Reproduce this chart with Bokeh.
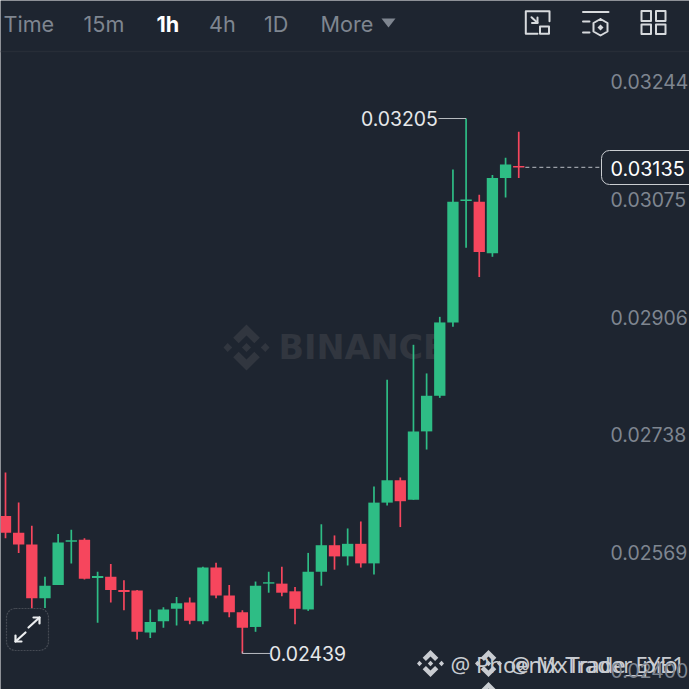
from bokeh.plotting import figure
from bokeh.models import Range1d, LinearAxis, FixedTicker
from bokeh.core.properties import value
from bokeh.embed import file_html
from bokeh.resources import INLINE

opens = [.02636,.02612,.02595,.02518,.02537,.02599,.02602,.02547,.02549,.02530,.02529,.02469,.02485,.02503,.02512,.02485,.02562,.02522,.02498,.02477,.02539,.02539,.02528,.02502,.02556,.02594,.02578,.02596,.02568,.02655,.02687,.02659,.02757,.02808,.02913,.03087,.03086,.03012,.03120,.03137]
highs = [.02698,.02655,.02622,.02549,.02610,.02616,.02604,.02556,.02567,.02544,.02530,.02502,.02505,.02520,.02519,.02563,.02569,.02537,.02501,.02542,.02556,.02563,.02534,.02583,.02624,.02608,.02618,.02628,.02678,.02831,.02691,.02881,.02840,.02921,.03132,.03205,.03096,.03124,.03149,.03186]
lows = [.02604,.02583,.02503,.02504,.02537,.02568,.02545,.02483,.02512,.02501,.02459,.02461,.02476,.02479,.02481,.02481,.02518,.02491,.02439,.02470,.02526,.02521,.02481,.02500,.02536,.02559,.02565,.02562,.02552,.02651,.02620,.02659,.02731,.02805,.02907,.03020,.02978,.03007,.03092,.03120]
closes = [.02612,.02595,.02518,.02536,.02598,.02601,.02546,.02550,.02530,.02527,.02470,.02484,.02502,.02511,.02486,.02562,.02522,.02498,.02476,.02536,.02541,.02526,.02503,.02556,.02594,.02578,.02596,.02568,.02655,.02687,.02657,.02757,.02808,.02913,.03086,.03089,.03014,.03120,.03139,.03135]
tick_values = [.03244,.03075,.02906,.02738,.02569,.02400]
header_labels = ["Time","15m","1h","4h","1D","More"]
last_price = .03135

BG, GREEN, RED = "#1e2530", "#2ebd85", "#f6465d"
GREY, LIGHT = "#7f8690", "#e6e8ea"
FONT = value("Inter")
SIZE = "19.4px"

p = figure(width=689, height=689, output_backend="svg", toolbar_location=None,
           x_range=Range1d(-0.38, 51.976), y_range=Range1d(0.023874, 0.033740),
           x_axis_location=None, y_axis_location=None, min_border=0)
p.grid.visible = False
p.outline_line_color = None
p.background_fill_color = BG
p.border_fill_color = BG
p.extra_x_ranges["px"] = Range1d(0, 689)
p.extra_y_ranges["py"] = Range1d(689, 0)
p.extra_y_ranges["labels"] = Range1d(0.023874 - 0.000143, 0.033740 - 0.000143)
PX = dict(x_range_name="px", y_range_name="py")

def lines(paths, color, width=2.0, **kw):
    p.multi_line([[a for a, _ in q] for q in paths], [[b for _, b in q] for q in paths],
                 line_color=color, line_width=width, line_cap="round", line_join="round", **PX, **kw)

def logo(cx, cy, r, color):
    parts = [[(0,1),(.58,.42),(.34,.18),(0,.52),(-.34,.18),(-.58,.42)],
             [(0,-1),(.58,-.42),(.34,-.18),(0,-.52),(-.34,-.18),(-.58,-.42)],
             [(0,.2),(.2,0),(0,-.2),(-.2,0)],
             [(-.82,.2),(-.62,0),(-.82,-.2),(-1,0)],
             [(.82,.2),(.62,0),(.82,-.2),(1,0)]]
    p.patches([[cx + r*a for a, _ in q] for q in parts], [[cy - r*b for _, b in q] for q in parts],
              fill_color=color, line_color=None, **PX)

# watermark, under the candles
logo(246, 347, 23, "#31363f")
p.text([278], [347], ["BINANCE"], text_color="#31363f", text_font=value("DejaVu Sans"), text_font_style="bold",
       text_font_size="33.5px", text_baseline="middle", **PX)

# header
for lab, x in zip(header_labels, [3, 83, 156, 208.5, 263.5, 320]):
    p.text([x], [23], [lab], text_color="#ffffff" if lab == "1h" else GREY, text_font=FONT,
           text_font_style="bold" if lab == "1h" else "normal", text_font_size="21.6px",
           text_baseline="middle", **PX)
p.patch([381, 395, 388], [18, 18, 27], fill_color=GREY, line_color=None, **PX)
p.line([0, 689], [51, 51], line_color="#272d37", line_width=1.5, **PX)

ICON = "#d7dadd"
lines([[(537,33.3),(525.3,33.3),(525.3,10.7),(549,10.7),(549,20.7)],
       [(539.5,26),(548.5,26),(548.5,33.3),(539.5,33.3),(539.5,26)],
       [(531,16.7),(537,22.3)], [(537,17),(537,22.5),(531.5,22.5)],
       [(582.5,11.5),(608,11.5)], [(582.5,21),(589,21)], [(582.5,32),(589,32)],
       [(600,18.5),(607,22.5),(607,31),(600,35),(593,31),(593,22.5),(600,18.5)],
       [(641,10.5),(650.5,10.5),(650.5,20.5),(641,20.5),(641,10.5)],
       [(655.5,10.5),(665,10.5),(665,20.5),(655.5,20.5),(655.5,10.5)],
       [(641,24),(650.5,24),(650.5,33.5),(641,33.5),(641,24)],
       [(655.5,24),(665,24),(665,33.5),(655.5,33.5),(655.5,24)]], ICON)
p.patch([600,603,600,597],[24,27,30,27], fill_color=ICON, line_color=None, **PX)

# candles
idx = list(range(len(opens)))
colors = [GREEN if c >= o else RED for o, c in zip(opens, closes)]
p.segment(idx, lows, idx, highs, line_color=colors, line_width=1.7)
p.vbar(idx, 0.86, [min(a) for a in zip(opens, closes)], [max(a) for a in zip(opens, closes)],
       fill_color=colors, line_color=None)

# price scale
axis = LinearAxis(y_range_name="labels", ticker=FixedTicker(ticks=tick_values),
                  major_label_overrides={v: f"{v:.5f}" for v in tick_values},
                  axis_line_color=None, major_tick_line_color=None, minor_tick_line_color=None,
                  major_label_text_color=GREY, major_label_text_font="Inter",
                  major_label_text_font_size=SIZE, major_label_standoff=6,
                  fixed_location=45.07)
p.add_layout(axis, "right")

# high / low markers
NOTE = "#b9bdc2"
hi_i, lo_i = highs.index(max(highs)), lows.index(min(lows))
p.line([hi_i, hi_i - 2.1], [max(highs)] * 2, line_color=NOTE, line_width=1)
p.text([hi_i - 2.15], [max(highs)], [f"{max(highs):.5f}"], text_color=LIGHT, text_font=FONT,
       text_font_size=SIZE, text_align="right", text_baseline="middle")
p.line([lo_i, lo_i, lo_i + 2.1], [lows[lo_i] + .00003, min(lows), min(lows)], line_color=NOTE, line_width=1)
p.text([lo_i + 2.02], [min(lows)], [f"{min(lows):.5f}"], text_color=LIGHT, text_font=FONT,
       text_font_size=SIZE, text_baseline="middle")

# last price
p.line([39.5, 45.3], [last_price] * 2, line_color="#9a9fa6", line_width=1.2, line_dash="4 3")
p.quad(left=[601], right=[700], top=[150], bottom=[184], fill_color=BG, line_color="#c9ccd0",
       line_width=1, border_radius=8, **PX)
p.text([610], [168], [f"{last_price:.5f}"], text_color="#ffffff", text_font=FONT,
       text_font_size="19.8px", text_baseline="middle", **PX)

# expand button
p.quad(left=[6], right=[48], top=[608], bottom=[650], fill_color=BG, line_color="#454a53",
       line_width=1.2, line_dash="2 1", border_radius=9, **PX)
lines([[(28,627),(39,617)], [(33,617),(39,617),(39,623)],
       [(25,632),(15,641)], [(15,635),(15,641),(21,641)]], "#eceef0", 2.2)

# overlaid social tags
TAG = "#c9ccd1"
logo(430, 663, 13.5, TAG)
logo(488, 663, 13.5, TAG)
logo(488, 695, 13.5, TAG)
for x, y, t in [(450, 663, "@ Phoenix Trader_pro"), (510, 663, "@ MxTrade_EYE1"), (510, 695, "@ Green Trader")]:
    p.text([x], [y], [t], text_color=TAG, text_font=value("Noto Sans"), text_font_size="22px",
           text_baseline="middle", **PX)

html = file_html(p, INLINE)
open("out.html", "w").write(html)
